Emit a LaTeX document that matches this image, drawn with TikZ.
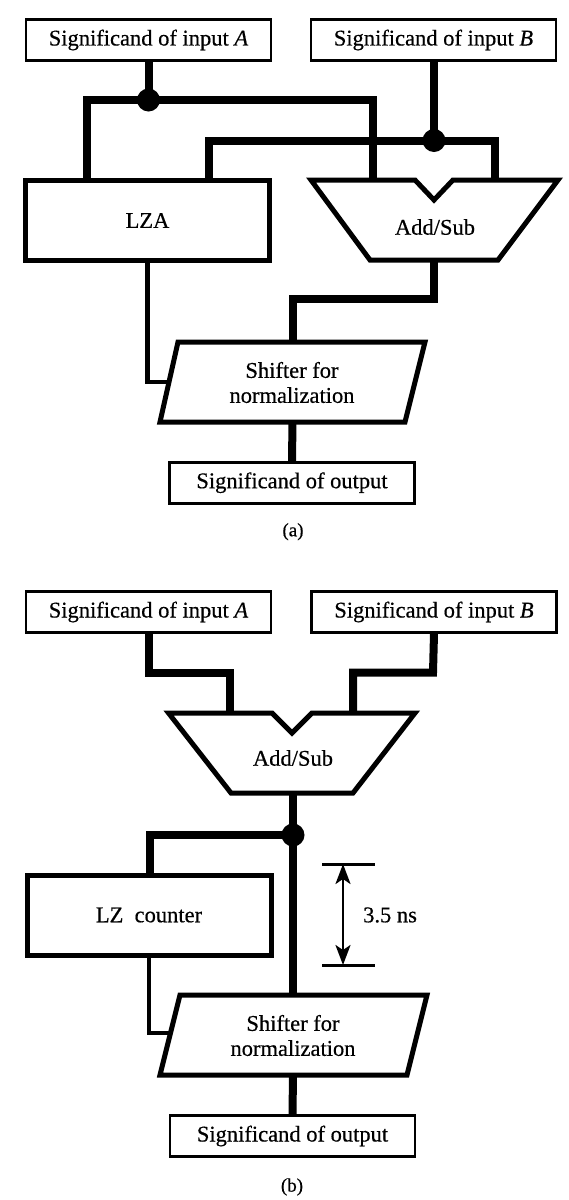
\documentclass[tikz,border=0pt]{standalone}
\usepackage{fontspec}
\setmainfont{Liberation Serif}[FakeBold=0.5]
\usetikzlibrary{arrows.meta}
\begin{document}
\begin{tikzpicture}[x=1pt,y=-1pt,
  txt/.style={font=\fontsize{22.5}{25}\selectfont},
  iobox/.style={txt, draw, line width=2.6pt, minimum width=245pt, minimum height=41pt, inner sep=0pt},
  blockbox/.style={txt, draw, line width=5pt, minimum width=244pt, minimum height=80pt, inner sep=0pt},
  lbl/.style={txt, inner sep=0pt, align=center},
  caption/.style={font=\fontsize{19}{22}\selectfont, inner sep=0pt},
  bus/.style={line width=8pt, line join=miter, line cap=butt},
  thinw/.style={line width=4.5pt, line join=miter},
  outline/.style={line width=5pt, line join=miter},
  junction/.style={circle, fill, inner sep=0pt, minimum size=23pt},
  dimbar/.style={line width=3pt},
  dimarrow/.style={line width=2.5pt, {Stealth[length=20pt,width=15pt,inset=5pt]}-{Stealth[length=20pt,width=15pt,inset=5pt]}},
]
\useasboundingbox (0,0) rectangle (568,1200);

% ================= (a) =================
\coordinate (aLzaInA) at (87,180);
\coordinate (aLzaInB) at (209,180);
\coordinate (aAsInA) at (373,180);
\coordinate (aAsInB) at (495,180);
\coordinate (aAsOut) at (434,260);
\coordinate (aShIn) at (292.5,342);
\coordinate (aShLz) at (170,382);
\coordinate (aShOut) at (292.5,422);
\node[junction] (aJa) at (148.5,100) {};
\node[junction] (aJb) at (434,140.5) {};

\node[iobox] (aInA) at (148.5,40) {Significand of input \textit{A}};
\node[iobox] (aInB) at (433.5,40) {Significand of input \textit{B}};

\draw[bus] (aInA.south) -- (aJa.center);
\draw[bus] (aInB.south -| aJb) -- (aJb.center);
\draw[bus] (aLzaInA) |- (aJa.center) -| (aAsInA);
\draw[bus] (aLzaInB) |- (aJb.center) -| (aAsInB);

\node[blockbox] (aLza) at (147.5,220.5) {LZA};

\draw[outline] (311,180) -- (415,180) -- (434,200) -- (453,180) -- (558,180)
  -- (498,260) -- (370,260) -- cycle;
\node[lbl] (aAs) at (435,227) {Add/Sub};

\draw[bus] (aAsOut) -- (434,298.5) -| (aShIn);
\draw[thinw] (aLza.south) |- (aShLz);

\draw[outline] (178,342) -- (425,342) -- (405,422) -- (160,422) -- cycle;
\node[lbl] (aSh) at (292,382.5) {Shifter for\\normalization};

\node[iobox] (aOut) at (292,482.7) {Significand of output};
\draw[bus] (aShOut) -- (aOut.north);

\node[caption] (aCap) at (293,531.7) {(a)};

% ================= (b) =================
\coordinate (bAsInA) at (230,713);
\coordinate (bAsInB) at (353,713);
\coordinate (bAsOut) at (293,793);
\coordinate (bShIn) at (293,995);
\coordinate (bShLz) at (170.4,1033);
\coordinate (bShOut) at (293,1075);
\coordinate (bLzIn) at (150.4,875);
\node[junction] (bJ) at (293,835) {};

\node[iobox] (bInA) at (148.5,612) {Significand of input \textit{A}};
\node[iobox] (bInB) at (434,612) {Significand of input \textit{B}};

\draw[bus] (bInA.south) -- (148.5,672.7) -| (bAsInA);
\draw[bus] (bInB.south -| aJb) -- (433,672.7) -| (bAsInB);

\draw[outline] (168.5,713) -- (272,713) -- (292,733) -- (312,713) -- (415,713)
  -- (353,793) -- (231,793) -- cycle;
\node[lbl] (bAs) at (293,758) {Add/Sub};

\draw[bus] (bAsOut) -- (bShIn);
\draw[bus] (bJ.center) -| (bLzIn);

\node[blockbox] (bLz) at (149,915) {LZ~~counter};
\draw[thinw] (bLz.south) |- (bShLz);

\draw[outline] (180,995) -- (427,995) -- (407,1075) -- (160,1075) -- cycle;
\node[lbl] (bSh) at (293,1035.5) {Shifter for\\normalization};

\node[iobox] (bOut) at (292.5,1136) {Significand of output};
\draw[bus] (bShOut) -- (bOut.north);

\node[caption] (bCap) at (292,1187) {(b)};

% dimension
\coordinate (dTop) at (343,864);
\coordinate (dBot) at (343,965);
\draw[dimbar] (322,864) -- (375,864);
\draw[dimbar] (322,965) -- (375,965);
\draw[dimarrow] (dTop) -- (dBot);
\node[txt, anchor=west, inner sep=0pt] (dLbl) at (363,915) {3.5 ns};

\end{tikzpicture}
\end{document}
